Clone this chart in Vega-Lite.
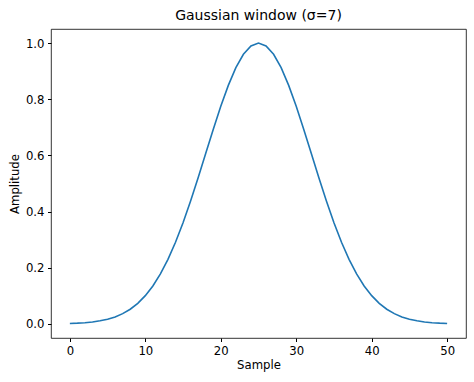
{
  "$schema": "https://vega.github.io/schema/vega-lite/v6.json",
  "width": 415,
  "height": 309,
  "autosize": {"type": "none"},
  "padding": {"left": 51, "top": 29, "right": 8, "bottom": 44},
  "background": "white",
  "title": {"text": "Gaussian window (σ=7)", "font": "DejaVu Sans", "fontSize": 14, "fontWeight": "normal", "color": "#000", "offset": 6},
  "config": {
    "view": {"stroke": "#000", "strokeWidth": 0.8},
    "axis": {"labelFont": "DejaVu Sans", "titleFont": "DejaVu Sans", "labelFontSize": 11.7, "titleFontSize": 11.7, "titleFontWeight": "normal", "labelColor": "#000", "titleColor": "#000", "tickColor": "#000", "domain": false, "grid": false, "tickSize": 3.5, "labelPadding": 3.5}
  },
  "data": {"values": [
    {"n":0,"w":0.00170},{"n":1,"w":0.00280},{"n":2,"w":0.00452},{"n":3,"w":0.00716},{"n":4,"w":0.01111},
    {"n":5,"w":0.01688},{"n":6,"w":0.02513},{"n":7,"w":0.03667},{"n":8,"w":0.05241},{"n":9,"w":0.07339},
    {"n":10,"w":0.10069},{"n":11,"w":0.13534},{"n":12,"w":0.17829},{"n":13,"w":0.23008},{"n":14,"w":0.29090},
    {"n":15,"w":0.36044},{"n":16,"w":0.43757},{"n":17,"w":0.52045},{"n":18,"w":0.60653},{"n":19,"w":0.69255},
    {"n":20,"w":0.77483},{"n":21,"w":0.84936},{"n":22,"w":0.91225},{"n":23,"w":0.96000},{"n":24,"w":0.98985},
    {"n":25,"w":1.0},
    {"n":26,"w":0.98985},{"n":27,"w":0.96000},{"n":28,"w":0.91225},{"n":29,"w":0.84936},{"n":30,"w":0.77483},
    {"n":31,"w":0.69255},{"n":32,"w":0.60653},{"n":33,"w":0.52045},{"n":34,"w":0.43757},{"n":35,"w":0.36044},
    {"n":36,"w":0.29090},{"n":37,"w":0.23008},{"n":38,"w":0.17829},{"n":39,"w":0.13534},{"n":40,"w":0.10069},
    {"n":41,"w":0.07339},{"n":42,"w":0.05241},{"n":43,"w":0.03667},{"n":44,"w":0.02513},{"n":45,"w":0.01688},
    {"n":46,"w":0.01111},{"n":47,"w":0.00716},{"n":48,"w":0.00452},{"n":49,"w":0.00280},{"n":50,"w":0.00170}
  ]},
  "mark": {"type": "line", "color": "#1f77b4", "strokeWidth": 1.6, "clip": true},
  "encoding": {
    "x": {"field": "n", "type": "quantitative", "title": "Sample", "scale": {"domain": [-2.5, 52.5], "nice": false, "zero": false}, "axis": {"values": [0, 10, 20, 30, 40, 50], "titlePadding": 3}},
    "y": {"field": "w", "type": "quantitative", "title": "Amplitude", "scale": {"domain": [-0.05, 1.05], "nice": false, "zero": false}, "axis": {"values": [0, 0.2, 0.4, 0.6, 0.8, 1.0], "format": ".1f", "titlePadding": 5}}
  }
}
